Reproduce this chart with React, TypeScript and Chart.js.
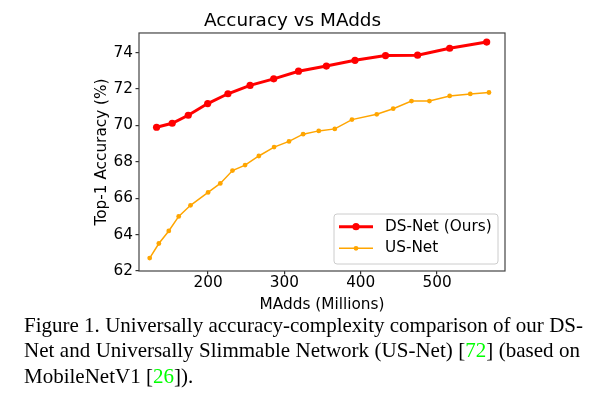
import React, { useEffect, useRef } from "react";
import { Chart, registerables } from "chart.js";

Chart.register(...registerables);

const titleText = "Accuracy vs MAdds";
const xTitle = "MAdds (Millions)";
const yTitle = "Top-1 Accuracy (%)";
const dsLabel = "DS-Net (Ours)";
const usLabel = "US-Net";

const dsMAdds = [132.5, 153, 174, 199.5, 226, 255, 286, 318.5, 355, 392.5, 432.5, 474.5, 516.5, 565];
const dsAcc = [69.9, 70.12, 70.56, 71.2, 71.74, 72.2, 72.56, 72.98, 73.26, 73.58, 73.84, 73.86, 74.24, 74.58];

const usMAdds = [123.5, 135.5, 148.5, 161.5, 177, 200, 216, 232, 248.5, 266.5, 286.5, 306, 324.5, 345, 366, 388.5, 421, 442.5, 466.5, 490, 516.5, 543.5, 568];
const usAcc = [62.71, 63.51, 64.2, 65.0, 65.61, 66.32, 66.81, 67.52, 67.82, 68.32, 68.81, 69.12, 69.52, 69.7, 69.81, 70.32, 70.61, 70.92, 71.34, 71.34, 71.62, 71.73, 71.81];

const xTicks = [200, 300, 400, 500];
const yTicks = [62, 64, 66, 68, 70, 72, 74];

const FONT = "'DejaVu Sans', sans-serif";

const frameAndLegend = {
  id: "frameAndLegend",
  afterDraw(chart: any) {
    const ctx = chart.ctx;
    const ca = chart.chartArea;
    ctx.save();
    // frame (all four spines)
    ctx.strokeStyle = "#444";
    ctx.lineWidth = 1.2;
    ctx.strokeRect(ca.left, ca.top, ca.right - ca.left, ca.bottom - ca.top);

    // legend
    const w = 164, h = 50;
    const x0 = ca.right - 7 - w;
    const y0 = ca.bottom - 7 - h;
    const r = 3;
    ctx.beginPath();
    ctx.moveTo(x0 + r, y0);
    ctx.lineTo(x0 + w - r, y0);
    ctx.quadraticCurveTo(x0 + w, y0, x0 + w, y0 + r);
    ctx.lineTo(x0 + w, y0 + h - r);
    ctx.quadraticCurveTo(x0 + w, y0 + h, x0 + w - r, y0 + h);
    ctx.lineTo(x0 + r, y0 + h);
    ctx.quadraticCurveTo(x0, y0 + h, x0, y0 + h - r);
    ctx.lineTo(x0, y0 + r);
    ctx.quadraticCurveTo(x0, y0, x0 + r, y0);
    ctx.closePath();
    ctx.fillStyle = "rgba(255,255,255,0.8)";
    ctx.fill();
    ctx.strokeStyle = "#cccccc";
    ctx.lineWidth = 1;
    ctx.stroke();

    const rowsY = [y0 + 12.7, y0 + 34.3];
    chart.data.datasets.forEach((ds: any, i: number) => {
      const yy = rowsY[i];
      ctx.beginPath();
      ctx.strokeStyle = ds.borderColor;
      ctx.lineWidth = ds.borderWidth;
      ctx.moveTo(x0 + 5, yy);
      ctx.lineTo(x0 + 39, yy);
      ctx.stroke();
      ctx.beginPath();
      ctx.fillStyle = ds.pointBackgroundColor;
      ctx.arc(x0 + 22, yy, ds.pointRadius, 0, Math.PI * 2);
      ctx.fill();
      ctx.fillStyle = "#000";
      ctx.font = `15.3px ${FONT}`;
      ctx.textBaseline = "middle";
      ctx.textAlign = "left";
      ctx.fillText(ds.label, x0 + 51, yy);
    });
    ctx.restore();
  },
};

function ChartBox() {
  const ref = useRef<HTMLCanvasElement | null>(null);
  useEffect(() => {
    if (!ref.current) return;
    const chart = new Chart(ref.current, {
      type: "line",
      data: {
        datasets: [
          {
            label: dsLabel,
            data: dsMAdds.map((x, i) => ({ x, y: dsAcc[i] })),
            borderColor: "#ff0000",
            backgroundColor: "#ff0000",
            pointBackgroundColor: "#ff0000",
            borderWidth: 3,
            pointRadius: 3.6,
            pointBorderWidth: 0,
            tension: 0,
          },
          {
            label: usLabel,
            data: usMAdds.map((x, i) => ({ x, y: usAcc[i] })),
            borderColor: "#ffa500",
            backgroundColor: "#ffa500",
            pointBackgroundColor: "#ffa500",
            borderWidth: 1.5,
            pointRadius: 2.4,
            pointBorderWidth: 0,
            tension: 0,
          },
        ],
      },
      options: {
        animation: false,
        responsive: false,
        layout: { padding: { left: 80, right: 101, top: 0, bottom: 0 } },
        plugins: {
          legend: { display: false },
          tooltip: { enabled: false },
          title: {
            display: true,
            text: titleText,
            color: "#000",
            font: { family: FONT, size: 18.4, weight: "normal" },
            padding: { top: 10.2, bottom: 0.7 },
          },
        },
        scales: {
          x: {
            type: "linear",
            min: 109.5,
            max: 589,
            afterFit: (s: any) => { s.height = 314 - 271; },
            afterBuildTicks: (s: any) => { s.ticks = xTicks.map((v) => ({ value: v })); },
            ticks: { color: "#000", font: { family: FONT, size: 15.3 }, padding: -1, maxRotation: 0 },
            grid: { drawOnChartArea: false, drawTicks: true, tickLength: 3.5, color: "#333", lineWidth: 1.2 },
            border: { display: false },
            title: {
              display: true,
              text: xTitle,
              color: "#000",
              font: { family: FONT, size: 15.3 },
              padding: { top: 0, bottom: 0 },
            },
          },
          y: {
            type: "linear",
            min: 62,
            max: 75.08,
            afterFit: (s: any) => { s.width = 139 - 80; },
            afterBuildTicks: (s: any) => { s.ticks = yTicks.map((v) => ({ value: v })); },
            ticks: { color: "#000", font: { family: FONT, size: 15.3 }, padding: 2.5 },
            grid: { drawOnChartArea: false, drawTicks: true, tickLength: 3.5, color: "#333", lineWidth: 1.2 },
            border: { display: false },
            title: {
              display: true,
              text: yTitle,
              color: "#000",
              font: { family: FONT, size: 15.3 },
              padding: { top: 13, bottom: 0 },
            },
          },
        },
      },
      plugins: [frameAndLegend],
    } as any);
    return () => chart.destroy();
  }, []);
  return <canvas ref={ref} width={606} height={314} style={{ display: "block", position: "absolute", left: 0, top: 0 }} />;
}

const captionLines = [
  ["Figure 1. Universally accuracy-complexity comparison of our DS-"],
  ["Net and Universally Slimmable Network (US-Net) [", "72", "] (based on"],
  ["MobileNetV1 [", "26", "])."],
];
const captionWidths = [559, 556, 0];

export default function App() {
  return (
    <div style={{ position: "absolute", left: 0, top: 0, width: 606, height: 397, background: "#fff", overflow: "hidden" }}>
      <ChartBox />
      <div style={{ position: "absolute", left: 24, top: 312.7, fontFamily: "'Liberation Serif', serif", fontSize: 21, lineHeight: "25.8px", color: "#000" }}>
        {captionLines.map((parts, li) => (
          <div
            key={li}
            style={{
              width: captionWidths[li] || "auto",
              whiteSpace: "nowrap",
              textAlign: captionWidths[li] ? "justify" : "left",
              textAlignLast: captionWidths[li] ? "justify" : "left",
            } as any}
          >
            {parts.map((p, pi) => (
              <span key={pi} style={{ color: pi === 1 ? "#00ff00" : "#000" }}>{p}</span>
            ))}
          </div>
        ))}
      </div>
    </div>
  );
}
